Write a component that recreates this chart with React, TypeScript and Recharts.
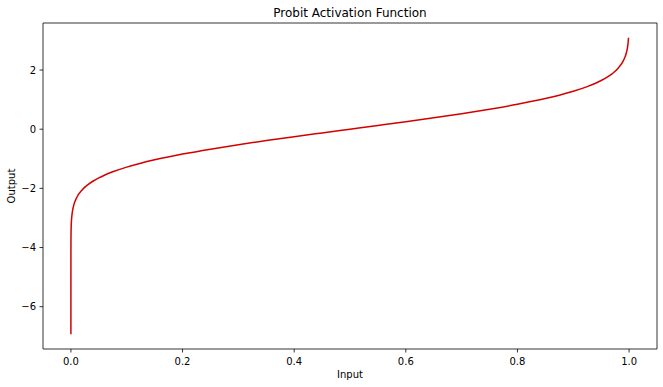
import { LineChart, Line, XAxis, YAxis, ReferenceLine } from 'recharts'

// probit curve (input -> output)
const inputs = [
  0.0, 0.00001, 0.0001, 0.0005, 0.001, 0.002, 0.005, 0.01, 0.02, 0.03, 0.04, 0.05,
  0.06, 0.075, 0.1, 0.125, 0.15, 0.2, 0.25, 0.3, 0.35, 0.4, 0.45, 0.5, 0.55, 0.6,
  0.65, 0.7, 0.75, 0.8, 0.85, 0.875, 0.9, 0.925, 0.94, 0.95, 0.96, 0.97, 0.98,
  0.99, 0.995, 0.998, 0.999,
]
const outputs = [
  -6.93, -4.265, -3.719, -3.291, -3.09, -2.878, -2.576, -2.326, -2.054, -1.881, -1.751, -1.645,
  -1.555, -1.44, -1.282, -1.15, -1.036, -0.842, -0.674, -0.524, -0.385, -0.253, -0.126, 0, 0.126, 0.253,
  0.385, 0.524, 0.674, 0.842, 1.036, 1.15, 1.282, 1.44, 1.555, 1.645, 1.751, 1.881, 2.054,
  2.326, 2.576, 2.878, 3.09,
]
const xTicks = [0, 0.2, 0.4, 0.6, 0.8, 1.0]
const yTicks = [-6, -4, -2, 0, 2]

const data = inputs.map((x, i) => ({ x, y: outputs[i] }))

const X_DOMAIN: [number, number] = [-0.05, 1.05]
const Y_DOMAIN: [number, number] = [-7.43, 3.59]

const fmtY = (v: number) => (v < 0 ? '\u2212' + Math.abs(v) : String(v))

function OutputLabel(props: any) {
  const vb = props.viewBox || { x: 0, y: 0, width: 0, height: 0 }
  const cy = vb.y + vb.height / 2
  return (
    <text x={14.5} y={cy} transform={`rotate(-90 14.5 ${cy})`} textAnchor="middle" fontSize={10} fill="#000">
      Output
    </text>
  )
}

export default function App() {
  return (
    <div style={{ position: 'absolute', left: 0, top: 0, fontFamily: '"DejaVu Sans", sans-serif', background: '#fff' }}>
      <LineChart width={663} height={387} data={data} margin={{ top: 23, right: 6, bottom: 8, left: 0 }}>
        <XAxis
          dataKey="x"
          type="number"
          domain={X_DOMAIN}
          ticks={xTicks}
          tickFormatter={(v: number) => v.toFixed(1)}
          allowDataOverflow
          height={30}
          tickSize={3.5}
          tickMargin={5}
          stroke="#000"
          strokeWidth={0.8}
          tick={{ fill: '#000', fontSize: 10 }}
          label={{ value: 'Input', position: 'insideBottom', offset: 1, fill: '#000', fontSize: 10 }}
        />
        <YAxis
          type="number"
          domain={Y_DOMAIN}
          ticks={yTicks}
          tickFormatter={fmtY}
          allowDataOverflow
          width={43}
          tickSize={3.5}
          tickMargin={3.5}
          stroke="#000"
          strokeWidth={0.8}
          tick={{ fill: '#000', fontSize: 10 }}
          label={<OutputLabel />}
        />
        <ReferenceLine
          y={Y_DOMAIN[1]}
          stroke="#000"
          strokeWidth={0.8}
          label={{ value: 'Probit Activation Function', position: 'top', offset: 6, fill: '#000', fontSize: 12 }}
        />
        <ReferenceLine x={X_DOMAIN[1]} stroke="#000" strokeWidth={0.8} />
        <Line
          type="monotone"
          dataKey="y"
          stroke="#d40000"
          strokeWidth={1.5}
          dot={false}
          isAnimationActive={false}
        />
      </LineChart>
    </div>
  )
}
